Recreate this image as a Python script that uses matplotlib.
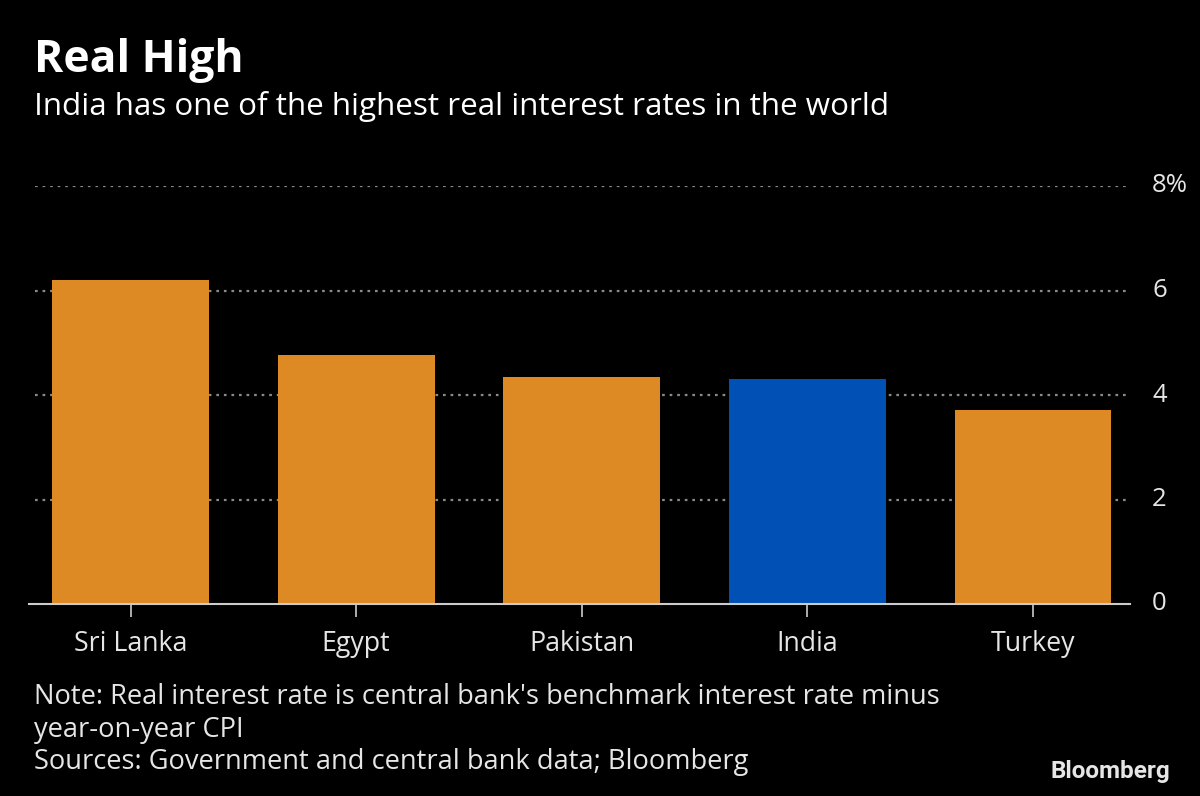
import matplotlib
matplotlib.use("Agg")
import matplotlib.pyplot as plt

categories = ["Sri Lanka", "Egypt", "Pakistan", "India", "Turkey"]
values = [6.20, 4.77, 4.34, 4.31, 3.71]
highlight = "India"
yticks = [0, 2, 4, 6, 8]
ytick_labels = ["0", "2", "4", "6", "8%"]

plt.rcParams['font.family'] = ['Open Sans', 'DejaVu Sans']

fig = plt.figure(figsize=(12, 7.96), dpi=100, facecolor="black")
ax = fig.add_axes([29/1200, 1-604/796, (1130-29)/1200, (604-186)/796])
ax.set_facecolor("black")

colors = ["#0050B5" if c == highlight else "#DE8A24" for c in categories]
x = list(range(len(categories)))
ax.bar(x, values, width=0.695, color=colors, zorder=3)

ax.set_xlim(-0.45, 4.43)
ax.set_ylim(0, 8)
ax.set_yticks(yticks)
ax.set_yticklabels(ytick_labels)
ax.yaxis.tick_right()
ax.tick_params(axis='y', length=0, pad=16, labelsize=18.5, labelcolor="#e6e6e6")
ax.set_xticks(x)
ax.set_xticklabels(categories)
ax.tick_params(axis='x', length=9, width=1.2, color="#cccccc", pad=10,
               labelsize=19.3, labelcolor="#e6e6e6")
for lbl in ax.get_yticklabels():
    lbl.set_verticalalignment('center')

for t in yticks[1:]:
    ax.axhline(t, xmin=0.005, xmax=1, color="#8a8a8a", lw=1.6,
               linestyle=(0, (1.2, 2.2)), zorder=1)

for s in ["top", "right", "left"]:
    ax.spines[s].set_visible(False)
ax.spines["bottom"].set_color("#cccccc")
ax.spines["bottom"].set_linewidth(1.5)
ax.spines["bottom"].set_zorder(4)

fig.text(34/1200, 1-72/796, "Real High", color="white", fontsize=32,
         fontweight="bold", va="baseline", ha="left")
fig.text(34/1200, 1-115/796, "India has one of the highest real interest rates in the world",
         color="white", fontsize=22.6, va="baseline", ha="left")
fig.text(34/1200, 1-704/796, "Note: Real interest rate is central bank's benchmark interest rate minus",
         color="#e6e6e6", fontsize=19.6, va="baseline", ha="left")
fig.text(34/1200, 1-737/796, "year-on-year CPI",
         color="#e6e6e6", fontsize=19.6, va="baseline", ha="left")
fig.text(34/1200, 1-769/796, "Sources: Government and central bank data; Bloomberg",
         color="#e6e6e6", fontsize=19.6, va="baseline", ha="left")
fig.text(1170/1200, 1-778/796, "Bloomberg", color="#e6e6e6", fontsize=17.5,
         fontweight="bold", va="baseline", ha="right", family=["Roboto", "DejaVu Sans"])

fig.savefig("out.png", dpi=100, facecolor="black")
